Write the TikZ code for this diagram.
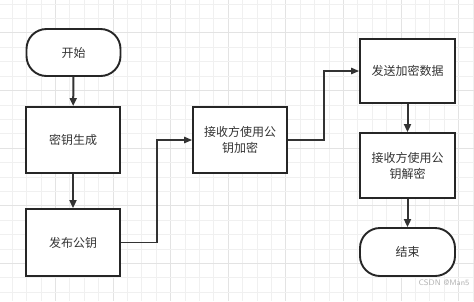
\documentclass[tikz,border=0pt]{standalone}
\usepackage{fontspec}
\newfontfamily\cjk{Noto Sans CJK SC}
\usetikzlibrary{arrows.meta,positioning,calc}

\tikzset{
  stepbox/.style={draw=black!85, line width=1.9pt, fill=white, minimum width=94pt,
    minimum height=66pt, align=center, inner sep=2pt, text=black!80,
    font=\cjk\fontsize{12}{16}\selectfont},
  termbox/.style={stepbox, rounded corners=20pt, minimum height=47pt},
  flow/.style={-{Triangle[length=8pt,width=7pt]}, line width=2pt, draw=black!80},
  link/.style={-{Triangle[length=8pt,width=6.5pt]}, line width=1.2pt, draw=black!80},
}

\begin{document}
\begin{tikzpicture}[x=1pt, y=-1pt]
  \useasboundingbox (0,0) rectangle (474,301);
  \fill[white] (0,0) rectangle (474,301);
  % background grid
  \foreach \k in {0,...,32} {
    \pgfmathsetmacro{\gx}{12.1+14.4*\k}
    \pgfmathtruncatemacro{\major}{mod(\k,4)==3}
    \ifnum\major=1 \draw[black!11, line width=0.8pt] (\gx,0) -- (\gx,301);
    \else \draw[black!6, line width=0.6pt] (\gx,0) -- (\gx,301); \fi
  }
  \foreach \k in {0,...,20} {
    \pgfmathsetmacro{\gy}{4+14.4*\k}
    \pgfmathtruncatemacro{\major}{mod(\k,4)==2}
    \ifnum\major=1 \draw[black!11, line width=0.8pt] (0,\gy) -- (474,\gy);
    \else \draw[black!6, line width=0.6pt] (0,\gy) -- (474,\gy); \fi
  }

  % left column
  \node[termbox] (start)   at (73.5,52.5) {开始};
  \node[stepbox] (keygen)  at (73,140)    {密钥生成};
  \node[stepbox, minimum height=67pt] (publish) at (73,242.5) {发布公钥};
  % middle
  \node[stepbox] (encrypt) at (240,140)   {接收方使用公\\钥加密};
  % right column
  \node[stepbox, minimum width=95pt, minimum height=64pt] (send) at (407.5,71) {发送加密数据};
  \node[stepbox, minimum width=95pt, minimum height=65pt] (decrypt) at (407.5,165.5) {接收方使用公\\钥解密};
  \node[termbox, minimum width=95pt, minimum height=48pt] (finish) at (407.5,252) {结束};

  % connectors
  \draw[flow] (start) -- (keygen);
  \draw[flow] (keygen) -- (publish);
  \coordinate (bendA) at (157,190);
  \draw[link] (publish.east) -| (bendA) |- (encrypt.west);
  \coordinate (bendB) at (324,100);
  \draw[link] (encrypt.east) -| (bendB) |- (send.west);
  \draw[flow] (send) -- (decrypt);
  \draw[flow] (decrypt) -- (finish);

  % watermark
  \node[black!30, font=\sffamily\fontsize{8}{9}\selectfont] (mark) at (444,283) {CSDN @Man5};
\end{tikzpicture}
\end{document}
